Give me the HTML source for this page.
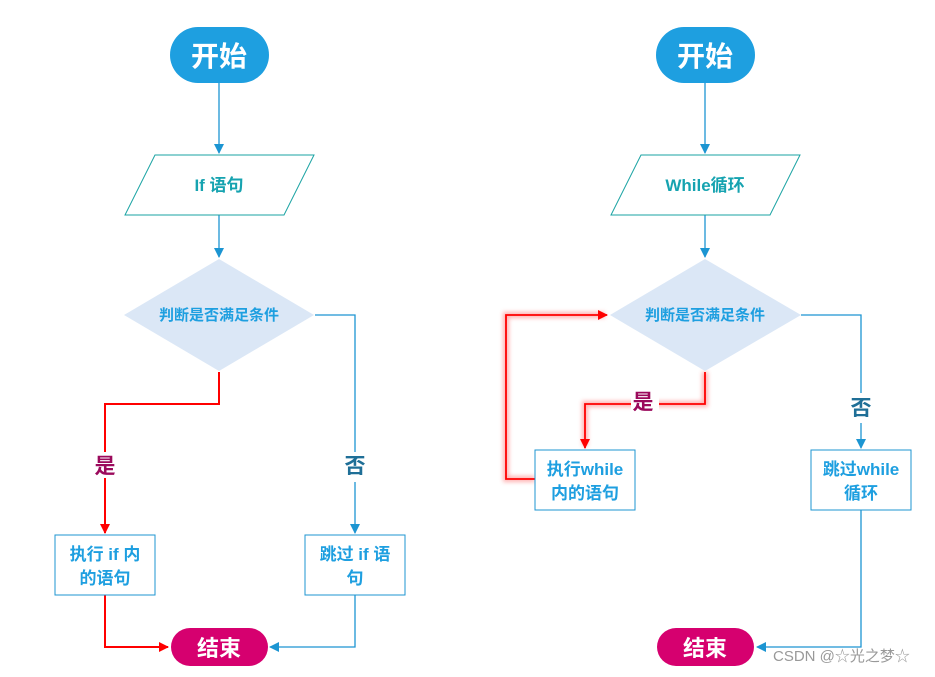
<!DOCTYPE html>
<html><head><meta charset="utf-8"><style>
body{margin:0;background:#fff;width:935px;height:672px;overflow:hidden}
svg text{font-family:"Liberation Sans","Noto Sans CJK SC",sans-serif;font-weight:bold}
</style></head><body>
<svg width="935" height="672" viewBox="0 0 935 672">
<defs>
<marker id="b" markerWidth="10" markerHeight="10" refX="9" refY="5" orient="auto" markerUnits="userSpaceOnUse"><path d="M0,0 L10,5 L0,10z" fill="#1c95d2"/></marker>
<marker id="r" markerWidth="10" markerHeight="10" refX="9" refY="5" orient="auto" markerUnits="userSpaceOnUse"><path d="M0,0 L10,5 L0,10z" fill="#f00"/></marker>
<filter id="g" x="-20%" y="-20%" width="140%" height="140%"><feGaussianBlur stdDeviation="2"/></filter>
</defs>
<g fill="none" stroke="#1c95d2" stroke-width="1.3">
<!-- left -->
<line x1="219" y1="83" x2="219" y2="153" marker-end="url(#b)"/>
<line x1="219" y1="215" x2="219" y2="257" marker-end="url(#b)"/>
<polyline points="315,315 355,315 355,452"/>
<line x1="355" y1="482" x2="355" y2="533" marker-end="url(#b)"/>
<polyline points="355,595 355,647 270,647" marker-end="url(#b)"/>
<!-- right -->
<line x1="705" y1="83" x2="705" y2="153" marker-end="url(#b)"/>
<line x1="705" y1="215" x2="705" y2="257" marker-end="url(#b)"/>
<polyline points="801,315 861,315 861,393"/>
<line x1="861" y1="423" x2="861" y2="448" marker-end="url(#b)"/>
<polyline points="861,510 861,647 757,647" marker-end="url(#b)"/>
</g>
<g fill="none" stroke="#f00" stroke-width="2">
<polyline points="219,372 219,404 105,404 105,452"/>
<line x1="105" y1="478" x2="105" y2="533" marker-end="url(#r)"/>
<polyline points="105,595 105,647 168,647" marker-end="url(#r)"/>
</g>
<g fill="none" stroke="#f66" stroke-width="6" opacity="0.5" filter="url(#g)">
<polyline points="535,479 506,479 506,315 605,315"/>
<polyline points="705,372 705,404 585,404 585,446"/>
</g>
<g fill="none" stroke="#f00" stroke-width="1.8">
<polyline points="535,479 506,479 506,315 607,315" marker-end="url(#r)"/>
<polyline points="705,372 705,404 585,404 585,448" marker-end="url(#r)"/>
</g>
<!-- shapes -->
<rect x="170" y="27" width="99" height="56" rx="28" fill="#1e9fe0"/>
<rect x="656" y="27" width="99" height="56" rx="28" fill="#1e9fe0"/>
<text x="219" y="66" font-size="28" fill="#fff" text-anchor="middle">开始</text>
<text x="705" y="66" font-size="28" fill="#fff" text-anchor="middle">开始</text>
<polygon points="155,155 314,155 284,215 125,215" fill="#fff" stroke="#1aa3a3" stroke-width="1"/>
<polygon points="641,155 800,155 770,215 611,215" fill="#fff" stroke="#1aa3a3" stroke-width="1"/>
<text x="219" y="191" font-size="17" fill="#16a3b0" text-anchor="middle">If 语句</text>
<text x="705" y="191" font-size="17" fill="#16a3b0" text-anchor="middle">While循环</text>
<polygon points="219,259 314,315 219,371 124,315" fill="#dbe7f6"/>
<polygon points="705,259 801,315 705,371 610,315" fill="#dbe7f6"/>
<text x="219" y="320" font-size="15" fill="#1e9fe0" text-anchor="middle">判断是否满足条件</text>
<text x="705" y="320" font-size="15" fill="#1e9fe0" text-anchor="middle">判断是否满足条件</text>
<text x="105" y="473" font-size="21" fill="#9b0a5c" text-anchor="middle">是</text>
<text x="355" y="473" font-size="21" fill="#1f6f97" text-anchor="middle">否</text>
<rect x="631" y="388" width="28" height="26" fill="#fff"/>
<text x="643" y="409" font-size="21" fill="#9b0a5c" text-anchor="middle">是</text>
<text x="861" y="415" font-size="21" fill="#1f6f97" text-anchor="middle">否</text>
<g fill="#fff" stroke="#1c95d2" stroke-width="1">
<rect x="55" y="535" width="100" height="60"/>
<rect x="305" y="535" width="100" height="60"/>
<rect x="535" y="450" width="100" height="60"/>
<rect x="811" y="450" width="100" height="60"/>
</g>
<g font-size="17" fill="#1e9fe0" text-anchor="middle">
<text x="105" y="560">执行 if 内</text><text x="105" y="584">的语句</text>
<text x="355" y="560">跳过 if 语</text><text x="355" y="584">句</text>
<text x="585" y="475">执行while</text><text x="585" y="499">内的语句</text>
<text x="861" y="475">跳过while</text><text x="861" y="499">循环</text>
</g>
<rect x="171" y="628" width="97" height="38" rx="19" fill="#d6006f"/>
<rect x="657" y="628" width="97" height="38" rx="19" fill="#d6006f"/>
<text x="219" y="656" font-size="22" fill="#fff" text-anchor="middle">结束</text>
<text x="705" y="656" font-size="22" fill="#fff" text-anchor="middle">结束</text>
<text x="773" y="661" font-size="15" fill="#999" style="font-weight:normal">CSDN @☆光之梦☆</text>
</svg>
</body></html>
